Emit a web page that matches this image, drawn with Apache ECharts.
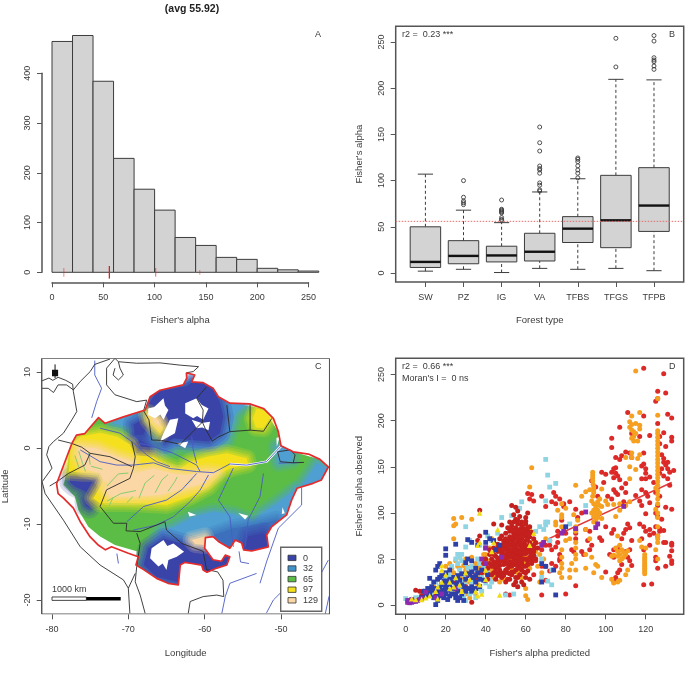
<!DOCTYPE html>
<html><head><meta charset="utf-8">
<script src="https://cdn.jsdelivr.net/npm/echarts@6/dist/echarts.min.js"></script>
<style>html,body{margin:0;padding:0;background:#fff}#c{width:685px;height:679px}</style></head>
<body><div id="c"></div>
<script>
const FONT='"Liberation Sans",Arial,sans-serif';
// ---- Panel A
const histEdges=[0,20,40,60,80,100,120,140,160,180,200,220,240,260];
const histCounts=[464,476,384,229,167,125,70,54,30,26,8,5,2.5];
const rugValues=[11.5,55.92,101,144];
const rugHalf=[8.7,12.7,8.7,4.7];
const rugAlpha=[0.4,1,0.55,0.4];
// ---- Panel B
const forestTypes=['SW','PZ','IG','VA','TFBS','TFGS','TFPB'];
const boxLow=[2,4,0.5,5,4,5,2.5];
const boxQ1=[6,10,12,13,33,27.4,45];
const boxMed=[12,18.5,19,23,48,57,73];
const boxQ3=[50,35,29,43,61,105.7,114];
const boxHigh=[107,68,54.5,87.7,102,209.6,209];
const boxOutliers=[[],[74,76,78,82,100],[57,58,60,65,66,67,68,69,79],[88.7,90,95,97.5,108,111.5,113,115.8,132,141,158],[103,108,111.5,116,120.5,123,124.5],[223,254],[220.4,224,228.7,230.5,233,251,257]];
const grandMean=55.92;
// ---- Panel C (lon, lat)
const outline=[[-62.4,9.9],[-61.3,9.6],[-61.7,8.7],[-60.2,8.6],[-58.9,7.85],[-58.2,6.75],[-56.7,5.9],[-54.1,5.8],[-52.3,5.2],[-51,3.9],[-50.35,2.15],[-50,0.3],[-48.4,-0.5],[-46.4,-0.8],[-44.9,-1.5],[-43.8,-2.5],[-44.7,-4.2],[-45.8,-4.65],[-47.9,-5.3],[-48.6,-6.84],[-49.26,-8.8],[-51.2,-10.35],[-51.87,-11.45],[-51.66,-13],[-53.84,-13.55],[-54.9,-13.4],[-55.15,-12.5],[-56,-12.1],[-56.7,-13.2],[-58.2,-12.3],[-58.9,-11.65],[-59.9,-11.8],[-60,-13.2],[-58.9,-14.7],[-57.8,-14.9],[-57.3,-14.1],[-56.7,-14.3],[-57.1,-15.4],[-58.4,-15.8],[-59.7,-16.35],[-60.2,-16.05],[-60.4,-15.4],[-61.7,-15.2],[-62.6,-15.05],[-63.2,-15.4],[-63.45,-18],[-64.8,-17.8],[-66.3,-17.15],[-68,-16],[-69,-15.4],[-68.7,-14.3],[-70,-13.85],[-72.2,-13],[-73,-13.4],[-73.9,-12.8],[-75,-11.7],[-76.3,-9.7],[-77.2,-7.9],[-78.5,-6.6],[-79.2,-6],[-79.4,-4.7],[-77.4,0.6],[-76.8,1.7],[-75.7,1.9],[-73.9,4],[-73.05,3.25],[-70.65,4.1],[-67.8,5],[-67.15,6.75],[-65.85,7.6],[-62.8,8.3],[-62.35,9.2],[-62.4,9.9]];
const greenBase=[[-73.9,4],[-73.05,3.25],[-70.65,4.1],[-67.8,5],[-67.15,6.75],[-65.85,7.6],[-62.8,8.3],[-61.7,8.7],[-60.2,8.6],[-58.9,7.85],[-56.7,5.9],[-52.3,5.2],[-50.35,2.15],[-48.4,-0.5],[-44.9,-1.5],[-43.8,-2.5],[-44.7,-4.2],[-48,-5.3],[-48.5,-9],[-51,-14],[-60,-17],[-63.4,-18.1],[-66.3,-17.2],[-69,-15.4],[-68.9,-13.6],[-71.75,-12.75],[-73.7,-11.65],[-75.25,-10.35],[-76.55,-8.15],[-77,-6.4],[-78.5,-4.85],[-78.1,-3.35],[-77.65,0.6],[-76.55,1.7],[-74.6,3.25]];
const blue32=[
 [[-67.7,6.1],[-66.3,7.8],[-62.4,8.6],[-61.7,9],[-60.2,8.8],[-58.9,8],[-58,7],[-56.7,6.1],[-54.3,6],[-56,4.6],[-56.5,2.8],[-57.1,1.05],[-58.9,-0.1],[-61,0],[-63.2,0.4],[-65.4,-0.5],[-65.9,1.05],[-66.3,1.9],[-67,4.5]],
 [[-72,3.25],[-70.65,4.05],[-68,4.9],[-67.4,3.25],[-66.95,1.05],[-66.5,-0.7],[-67.6,-1.2],[-69.1,-0.9],[-69.7,0.85],[-69.35,1.95],[-69.55,2.7]],
 [[-65.65,-10.8],[-64.1,-10.45],[-61.5,-9.05],[-58.9,-8.4],[-56.25,-8.7],[-53.6,-9.8],[-52.5,-8.6],[-50.55,-7.3],[-48.2,-5.5],[-48,-9],[-50.5,-14],[-60,-17],[-64,-18.5],[-67,-17],[-68,-15],[-67,-13]],
 [[-45.3,-2],[-43.6,-2.7],[-44.45,-4.45],[-46.65,-5.1],[-47.5,-5.3]],
 [[-50.6,0.2],[-48.5,-0.3],[-48.6,-1.6],[-50.3,-2]]
];
const blueMid=[[[-58.85,-11.45],[-56.25,-10.55],[-53.2,-10.1],[-50.55,-9.45],[-51.4,-13.85],[-56.25,-13.85]]];
const blue0=[
 [[-67.4,5.65],[-66.3,7.4],[-62.35,8.15],[-61.5,8.7],[-60.2,8.5],[-58.9,7.65],[-58,6.1],[-57.55,4.1],[-58,1.95],[-59.5,0.85],[-61.9,1.05],[-64.1,1.25],[-65.2,0.6],[-65.65,2.15],[-66.3,4.1]],
 [[-69.35,3.05],[-68.25,3.7],[-67.6,2.7],[-68.05,1.7],[-69.15,1.7]],
 [[-69.55,0.4],[-68.45,1.05],[-67.15,0.2],[-67.15,-0.9],[-68.45,-1.15],[-69.35,-0.5]],
 [[-77.65,-3.55],[-75.9,-3.55],[-74.15,-4],[-73.3,-4.65],[-73.7,-6.2],[-75,-6.75],[-75.55,-5.75],[-77,-5.1],[-77.65,-4.55]],
 [[-75.7,-6.85],[-75,-7],[-75.1,-7.9],[-75.6,-7.6]],
 [[-54.9,-13.4],[-54.3,-11.65],[-52.3,-11.2],[-51.45,-12.1],[-51.65,-13.4]],
 [[-67.4,-13.2],[-65.4,-11.9],[-62.35,-12.75],[-60.2,-13.4],[-58.9,-14.75],[-56.7,-14.3],[-56.25,-15.6],[-59.7,-16.5],[-63,-17.8],[-66.3,-16.95],[-68,-15.4]]
];
const yellow97=[
 [[-77.8,-3.1],[-77.55,0.2],[-76.3,1.5],[-73.7,2],[-71.5,1.5],[-69.8,0.5],[-69.1,-0.95],[-66.7,-1.15],[-65,-2.25],[-63.45,-2.9],[-61.9,-1.8],[-59.75,-1.15],[-57.1,-0.7],[-54.5,-1.35],[-54.3,-2.1],[-56.7,-2.7],[-58,-3.35],[-59.5,-5.1],[-61.9,-6.4],[-65,-7.5],[-68.5,-7.3],[-72,-7.2],[-73.7,-7.3],[-74.6,-6.6],[-73.7,-5.1],[-73.3,-4.2],[-73.7,-3.3],[-75.9,-3.25]],
 [[-53.2,5.2],[-51.9,4.8],[-51.45,3.9],[-52.3,2.6],[-53.3,2.7],[-53.7,3.9]],
 [[-67.6,4.65],[-66.7,4.35],[-65.4,2.6],[-65.85,1.9],[-66.5,2.6],[-67.4,3.7]]
];
const peach129=[
 [[-76.55,0.2],[-74.15,-0.05],[-71.5,-1.15],[-69.35,-1.8],[-69.55,-3.8],[-72.4,-4.65],[-73.3,-4.2],[-73.7,-3.35],[-75.9,-2.7],[-76.55,-1.15]],
 [[-69.35,-3.35],[-66.7,-2.7],[-64.1,-3.35],[-62.35,-3.55],[-59.75,-3.1],[-58.4,-3.25],[-60.2,-4.65],[-63.2,-5.5],[-65.85,-6.2],[-69.35,-6.4],[-72.4,-6.4],[-73.05,-5.5],[-72,-4.65]],
 [[-61.7,-12.1],[-59.95,-11.65],[-59.95,-12.75],[-61.25,-12.65]],
 [[-66.9,4.1],[-66,3.6],[-65.9,2.9],[-66.6,3.4]]
];
const noData=[
 [[-67.4,5.2],[-66.6,5.4],[-65.4,6.55],[-65.2,5.6],[-64.75,5],[-65.4,3.7],[-65.8,4.4],[-66.5,3.9],[-67.4,4.35]],
 [[-62.55,5.9],[-61.05,6.55],[-60.4,5.7],[-59.5,5.2],[-60.2,3.7],[-61,4.2],[-61.5,3.9],[-62.55,4.55]],
 [[-61.7,3.7],[-60.4,3.3],[-59.3,3.45],[-59.5,2.35],[-60.3,2.7],[-61.05,2.6]],
 [[-64.55,3.7],[-63.45,3.9],[-63.9,1.95],[-65.85,0.85],[-65.4,1.95]],
 [[-63.65,0.6],[-62.15,0.85],[-62.55,-0.05]],
 [[-50.6,1.3],[-50.15,1.5],[-50.55,0.15]],
 [[-55.6,-8.55],[-54.3,-8.9],[-54.7,-9.4]],
 [[-62.2,-8.4],[-61.1,-8.8],[-62,-9]],
 [[-49.8,-7.8],[-49.5,-8.6],[-49.9,-8.7]],
 [[-66.95,-13.2],[-65.4,-12.1],[-64.9,-12.9],[-64.1,-12.55],[-62.7,-13.65],[-63.65,-14.3],[-64.75,-14.75],[-65,-16.05],[-65.5,-15.2],[-66.05,-15.6],[-67.15,-14.5]]
];
const bigRivers=[
 [[-76.3,-0.25],[-73.7,-1.8],[-71.5,-2.25],[-69.35,-2.25],[-66.7,-1.95],[-64.55,-2.7],[-61.05,-3.1],[-58.85,-3.25],[-56.7,-2.1],[-54.5,-2.25],[-51.9,-1.8],[-50,0.25]],
 [[-73.7,2.6],[-71.1,1.95],[-69.55,0.85],[-67.6,-0.9],[-66.3,-1.8],[-64.55,-2.45]],
 [[-68.45,0.6],[-66.7,0.2],[-64.1,-0.7],[-61.05,-2.25],[-60.6,-3.1]],
 [[-61.7,1.5],[-61.5,-0.25],[-61.05,-2]],
 [[-69.35,-10.8],[-66.3,-10.15],[-64.1,-9.05],[-61.9,-7.05],[-60.6,-5.55],[-59.5,-3.55]],
 [[-70.2,-9.7],[-68,-7.7],[-65,-6.85],[-63,-5.5],[-61.05,-3.35]],
 [[-56.25,-2.65],[-58.2,-6.85],[-56.7,-9.05],[-56.25,-13]],
 [[-52.3,-3.35],[-52.75,-6.4],[-54.3,-9.45],[-54.7,-13]],
 [[-47.3,-5.2],[-47.3,-7.5],[-50.35,-10.55],[-51.9,-15],[-52.75,-17.8]],
 [[-43.8,-14.75],[-45.1,-17.15],[-49.5,-18.5],[-51,-20],[-51.9,-21.7]],
 [[-53.2,-16.5],[-56.7,-17.8],[-57.3,-19.55],[-57.75,-21.75]],
 [[-74.4,11.5],[-74.4,9.6],[-73.5,7.85],[-74.15,6.1],[-74.8,3.95]],
 [[-71.5,-13.9],[-71.3,-15.2]],
 [[-55.5,-13.6],[-55.3,-15],[-54.2,-15.2]],
 [[-50.3,-2],[-47.2,-1.9]],
 [[-43.7,-19.5],[-44.2,-21.8]]
];
const lightRivers=[
 [[-76.5,-0.4],[-76,-2],[-75.6,-3.1]],[[-75.2,-0.6],[-75,-2.2]],[[-72.8,-5],[-71.3,-3.4],[-70,-3.3]],
 [[-72.8,-7],[-71,-6],[-69,-5.6]],[[-68.6,-6.6],[-67.8,-4.6],[-66.6,-3.6]],[[-66.5,-5.9],[-65.6,-4.2],[-64.8,-3.5]],
 [[-64.8,-5.7],[-63.9,-4.4],[-63.6,-3.8]],[[-62.6,-5],[-61.6,-4.1]],[[-74.9,-2.4],[-73.4,-2.8]],[[-72.5,-7.6],[-72,-6.5]],
 [[-70.2,-7.2],[-69.4,-6.4]],[[-77,-1],[-76.5,-2.5]]
];
const borders=[
 [[-81.45,7.85],[-80.5,7.85],[-79.8,7.3],[-79.2,8.3],[-78.1,8.3],[-77.2,7.65],[-76.3,8.75],[-75,10.05],[-74.4,11],[-72.4,11.7]],
 [[-81.4,8.8],[-80.4,9.2],[-79.9,8.9],[-79.2,9.3],[-78.2,8.9],[-77.3,8.4],[-77.2,7.4],[-77,6.3],[-76.75,4.8],[-77.4,3.7],[-78.5,1.95],[-79.8,0.85],[-80.4,0.2],[-80.7,-0.9],[-80,-2.65],[-81.3,-4.45],[-80.9,-6],[-78.5,-9.5],[-76.3,-13],[-73.7,-15.4],[-70.65,-17.35],[-70,-18.45],[-69.8,-21.75]],
 [[-71.75,11.8],[-71.3,11.35],[-68.9,11.15],[-65.85,11.2],[-63.2,10.9],[-60.8,10.7],[-61.5,10.05],[-62.4,9.9]],
 [[-71.75,10.5],[-72,9.6],[-71.3,8.95],[-70.65,9.6],[-71.1,10.5],[-71.3,11.35]],
 [[-71.75,11.8],[-72.85,10.5],[-72.85,8.3],[-71.75,7],[-68.9,6.1],[-67.6,6.3],[-68,4.9],[-67.3,3.7],[-66.95,1.05],[-65.65,1],[-63.2,0.5],[-62,1.7],[-60.3,3.4],[-59.9,2.5],[-59,0.9],[-58.3,1.4],[-56.7,2.15],[-54.05,2.35],[-52.3,2.2],[-51.2,3.9]],
 [[-69.55,0.85],[-69.1,-1.15],[-69.35,-2.7],[-69.8,-4],[-72.85,-5.5],[-73.7,-7.7],[-71.95,-9.9],[-70.2,-9.9],[-70.3,-10.9],[-68.45,-11],[-65.2,-9.7],[-65,-10.8],[-63,-12.55],[-60.2,-13.6],[-59.75,-16],[-58.3,-16.3],[-57.6,-17.4],[-57.5,-19.55],[-58.4,-19.35],[-60.2,-19.55],[-61.9,-20.2],[-62.15,-21.75]],
 [[-68.9,-11.2],[-68.45,-12.55],[-68.9,-15.6],[-69.1,-17.6],[-68.45,-19.35],[-67.8,-21.75]],
 [[-69.1,-16.5],[-70,-18.45]],
 [[-57.1,5.65],[-56.7,2.15]],[[-54.05,5.65],[-54.05,2.35]],
 [[-59.75,8.05],[-61.05,6.55],[-60.2,5],[-60.3,3.4]],
 [[-77.85,-3.35],[-75.7,-2.25],[-75,-0.7],[-76.1,0.1],[-77.4,0.6],[-79.2,1.05]],
 [[-77.85,-3.35],[-79.3,-4.4],[-80.3,-5]],
 [[-75,-0.7],[-72.4,-1.15],[-69.55,-2.45]],
 [[-50.45,-0.5],[-48.8,-0.25],[-48.15,-0.9],[-48.4,-1.95],[-50.1,-1.8],[-50.45,-0.5]],
 [[-48.4,-1.95],[-47,-1.9]]
];
const scaleWhite=[[-80,-19.6],[-75.5,-19.6],[-75.5,-20.05],[-80,-20.05]];
const scaleBlack=[[-75.5,-19.6],[-71,-19.6],[-71,-20.05],[-75.5,-20.05]];
const northArrow=[[-80,10.3],[-79.2,10.3],[-79.2,9.45],[-80,9.45]];
const northSpike=[[-79.6,11],[-79.6,9.2]];
const legendTitles=['0','32','65','97','129'];
const legendColors=['#3A44A8','#4193CC','#5BBD45','#F4E01C','#FAD7A4'];
// ---- Panel D (predicted, observed)
const tfpbPts=[[119,257],[129,251],[126,232],[130,230],[126,224],[125,221],[111,209],[119,205],[131,207],[133,203],[126,197],[107,193],[113,186],[117,183],[122,184],[129,187],[127,183],[133,182],[133,178],[103,181],[103,171],[127,175],[130,172],[105,160],[108,162],[107,158],[110,166],[112,165],[113,160],[119,165],[128,163],[129,159],[129,155],[130,152],[131,155],[131,148],[128,148],[134,146],[132,144],[127,143],[129,140],[131,137],[119,153],[118,151],[120,148],[120,143],[118,137],[120,137],[122,139],[124,133],[118,125],[120,122],[121,118],[125,122],[127,118],[132,130],[105,149],[104,148],[105,143],[106,140],[104,138],[107,136],[110,132],[103,144],[98,144],[100,142],[93,135],[95,128],[99,133],[104,125],[105,122],[106,120],[108,127],[110,122],[96,118],[101,118],[103,115],[109,112],[115,119],[117,113],[118,108],[122,111],[126,108],[130,106],[133,104],[125,100],[126,96],[128,93],[120,99],[117,88],[119,85],[125,85],[127,83],[122,82],[120,80],[129,81],[124,78],[118,72],[122,76],[126,75],[127,80],[111,88],[112,84],[110,82],[109,78],[113,70],[108,72],[103,78],[104,82],[100,85],[104,60],[106,62],[102,55],[104,52],[110,58],[112,60],[111,52],[112,48],[113,43],[108,44],[107,38],[106,35],[105,30],[100,36],[104,26],[119,22],[123,23],[119,60],[122,65],[130,68],[133,67],[133,65],[133,59],[132,53],[133,48],[133,45],[130,42],[126,40],[125,48],[125,52],[129,68],[98,70],[97,73],[93,65],[92,60],[90,82],[88,100],[85,104],[82,112],[79,107],[74,122],[75,118],[77,115],[75,110],[73,112],[70,107],[68,118],[64,113],[63,120],[61,121],[62,115],[79,110],[86,95],[78,92],[76,80],[80,78],[76,75],[76,68],[75,63],[73,60],[77,55],[77,50],[77,48],[70,65],[72,70],[72,65],[68,60],[64,62],[65,48],[68,42],[70,42],[72,37],[73,45],[75,42],[64,33],[68,27],[70,27],[80,12],[85,21],[68,11],[52,11],[50,12],[84,58],[83,60],[88,58],[89,55],[92,80],[91,70],[85,78],[85,72],[85,82]];
const tfgsPts=[[115,254],[126,224],[126,206],[117,209],[113,205],[112,199],[113,196],[115,197],[117,195],[112,193],[117,191],[113,190],[126,189],[114,188],[115,186],[126,186],[114,183],[113,181],[126,182],[114,178],[116,178],[126,178],[126,174],[126,170],[126,166],[113,165],[117,163],[126,162],[110,160],[113,160],[116,159],[126,158],[126,154],[112,150],[126,150],[115,147],[126,146],[126,142],[126,138],[126,134],[126,130],[125,127],[126,124],[126,120],[126,115],[126,110],[125,104],[126,100],[126,95],[126,85],[126,75],[126,72],[126,68],
[93.5,144],[93.5,141],[93.5,138],[93.5,135],[93.7,131],[94,128],[94,125],[94,122],[93.5,118],[93,113],[94,110],[95,108],[96,112],[95,105],[94,103],[93,100],[95,100],[96,98],[94,96],[96,95],[95,92],[94,90],[97,108],[96,103],[97,115],[98,107],[97,100],[98,94],[96,88],[92,125],
[119.5,55],[119.5,52],[119.5,50],[119.5,48],[119.5,46],[119.5,44],[119.5,42],[119.5,40],[119.5,38],[119.5,36],[119.5,34],[118,63],
[105,62],[106,58],[107,55],[104,54],[103,53],[108,60],[109,57],[110,55],[106,53],[111,59],[108,50],[107,48],[109,52],[107,65],[106,75],[107,27],[104,24],[103,28],
[63,149],[62,128],[85,130],[98,126],[100,113],[101,109],[104,109],[107,110],[110,108],[107,103],[105,96],[112,137],[112,112],[90,123],[88,118],[78,110],[80,105],[76,103],[78,98],[78,95],[75,90],[75,87],[78,85],[84,98],[86,92],[85,85],[85,80],[82,72],[80,70],[78,60],[78,52],[78,45],[78,40],[77,35],[78,30],[85,68],[85,62],[85,55],[85,50],[83,45],[82,38],[85,38],[82,30],[90,82],[92,72],[90,55],[90,40],[93,52],[95,44],[94,35],[96,42],[98,30],[106,25],[110,33],[111,38],[117,70],[120,62],[125,60],[126,50],[28,95],[24,94],[25,88],[24,86],[33,93],[24,72],[27,40],
[20,42],[22,45],[25,48],[27,52],[30,50],[33,52],[35,45],[37,42],[40,40],[42,35],[38,30],[36,22],[34,28],[32,35],[30,38],[28,30],[26,25],[24,35],[22,30],[20,25],[18,18],[16,28],[14,20],[12,15],[25,15],[28,18],[30,12],[32,8],[34,18],[36,35],[38,48],[40,55],[42,62],[43,72],[44,30],[47,25],[49,28],[52,48],[55,70],[58,52],[60,62],[60,45],[60,52],[60,56],[58,68],[61,75],[62,82],[58,30],[60,18],[60,10],[61,6],[67,25],[68,35],[66,42],[65,58],[70,72],
[23,40],[26,42],[29,43],[31,41],[34,40],[37,38],[39,35],[29,25],[31,25],[33,15],[35,12],[37,30],[41,30],[43,38],[39,55],[41,48],[45,45],[47,60],[50,48],[53,40],[56,35],[59,48],[62,40],[57,75],[64,70],[67,55],[69,50]];
const tfbsPts=[[37,103],[37,75],[36,70],[33,3],[5,16],[7,15],[9,15],[12,13],[16,15],[8,10],[15,10],[20,20],[25,24],[30,20],[33,30],[35,28],[38,35],[40,27],[41,40],[42,45],[43,50],[44,55],[42,60],[44,62],[45,53],[46,48],[47,43],[45,40],[44,35],[46,32],[48,30],[47,38],[48,50],[49,55],[48,60],[46,66],[47,72],[44,88],[48,87],[50,38],[51,35],[52,28],[50,25],[54,22],[56,20],[58,25],[55,30],[53,36],[52,42],[54,44],[56,40],[58,38],[60,35],[62,28],[60,42],[58,46],[56,48],[54,50],[52,47],[50,45],[51,52],[53,55],[55,54],[57,52],[59,50],[61,48],[63,52],[62,57],[60,56],[58,58],[56,60],[54,58],[52,60],[50,62],[49,66],[51,68],[53,65],[55,66],[57,65],[59,63],[61,62],[63,60],[64,65],[62,68],[60,70],[58,72],[56,70],[54,72],[52,74],[50,78],[52,80],[54,78],[56,76],[58,78],[60,75],[62,74],[64,72],[61,80],[59,83],[57,82],[55,84],[53,86],[51,84],[56,88],[58,90],[60,88],[62,85],[60,95],[61,100],[57,96],[55,93],[54,98],[56,102],[53,108],[55,106],[52,90],[48,75],[46,58],[49,44],[47,35],[43,42],[41,33],[39,45],[40,50],[42,55],[44,47],[46,42],[48,56],[50,50],[52,52],[54,62],[56,55],[58,55],[60,60],[62,64],[64,58],[55,44],[53,33],[57,33],[61,37],[63,45],[65,50],[51,58],[49,70],[53,70],[57,68],[59,67],[61,72],[55,62],[57,60],[59,76],[63,79],[65,68],[66,62],
[45,44],[47,47],[49,48],[51,45],[53,46],[55,47],[57,44],[59,42],[61,44],[63,48],[45,36],[47,33],[49,35],[51,40],[53,42],[55,38],[57,40],[59,36],[44,42],[46,51],[48,53],[50,55],[52,56],[54,54],[56,52],[58,50],[60,50],[62,52],[64,54],[46,62],[48,64],[50,66],[52,65],[54,67],[56,66],[58,62],[60,65],[62,60],[64,61],[49,60],[51,62],[53,60],[55,59],[57,57],[59,56],[61,58],[63,56],[50,72],[52,70],[54,75],[56,73],[58,75],[60,78],[62,77],[53,82],[55,80],[57,79],[59,80],[61,84],[54,90],[56,92],[58,86],[60,91],[52,34],[54,36],[56,30],[60,30],[49,32],[45,28],[43,33],[41,28],[51,28],[55,25],[59,22]];
const vaPts=[[70,158],[71,141],[75,132],[72,128],[70,113],[58,112],[57,105],[53,97],[48,95],[30,85],[28,55],[27,52],[25,50],[26,45],[30,63],[32,70],[37,65],[36,50],[33,42],[30,45],[27,38],[25,30],[22,32],[20,28],[18,30],[15,25],[12,18],[10,15],[8,10],[5,8],[0,7],[20,12],[23,15],[27,20],[30,22],[33,25],[36,28],[38,32],[41,38],[42,30],[43,25],[42,20],[43,70],[41,75],[70,90],[70,87],[69,82],[67,85],[65,80],[72,70],[71,90],[82,88],[90,108],[73,22],[71,26],[68,30],[50,11],[54,12],[56,20],[73,38],[68,50],[65,52],[56,105],[38,15],[35,8],[30,5],[29,10],[46,78],[49,68],
[23,42],[26,55],[28,48],[31,40],[34,38],[37,45],[39,42],[40,24],[28,25],[25,20],[22,22],[19,18],[16,14],[14,12],[12,14],[9,12],[7,8],[32,12],[34,14],[36,18],[29,33],[24,26],[21,35],[17,20]];
const igPts=[[40,79],[20,61],[20,54],[25,66],[31,71],[33,68],[36,65],[40,68],[40,62],[42,72],[17,45],[16,42],[15,38],[20,35],[22,38],[18,32],[12,29],[14,25],[16,28],[20,26],[24,30],[26,25],[28,22],[30,28],[32,32],[34,30],[31,50],[30,46],[33,48],[35,40],[36,35],[18,22],[20,20],[22,22],[24,18],[26,15],[28,12],[25,8],[26,5],[15,0.5],[16,5],[14,8],[16,12],[18,14],[20,12],[22,10],[12,12],[10,10],[8,8],[9,15],[11,18],[13,20],[30,15],[33,20],[35,25],[37,20],[39,27],[41,33],[38,38],[45,60],[47,65],[68,45],[70,42],[68,25],[75,11],[74,38],[80,85],[44,70],
[17,30],[19,26],[21,24],[23,25],[25,22],[27,27],[29,20],[31,18],[33,15],[35,18],[13,16],[15,18],[17,17],[19,16],[21,16],[23,12],[25,12],[27,8],[29,5],[17,10],[19,8],[21,6],[31,34],[33,36],[35,32],[37,28],[28,34],[26,32],[22,28]];
const swPts=[[1,3],[2,2.5],[3,3],[4,4],[5,4],[2,5],[3,6],[6,5],[7,6],[8,7],[1,5],[15,8],[18,12],[10,14],[25,18],[38,50],[40,45],[48,52],[40,62],[85,83],[79,80],[78,78],[90,101],[109,107],[96,88],[95,84],[69,68],[68,65]];
const pzPts=[[37,100],[47,11],[46,82],[44,68],[37,68],[36,65],[43,58],[20,33],[18,38],[18,43],[18,25],[16,20],[22,25],[25,30],[22,18],[15,15],[12,10],[8,6],[5,6],[3,7],[10,8],[16,7],[27,22],[30,35],[32,28],[35,15],[37,22],[40,28],[28,15],[38,12],[36,10],[64,78],[62,65],[40,38],[24,20]];
const fitLine=[[0,1],[133,133]];

const INK='#3a3a3a', AXIS='#555';
const txt={color:INK,fontFamily:FONT,fontSize:9.5};
const tickTxt={color:INK,fontFamily:FONT,fontSize:9};
function axisBase(name,gap,extra,margin){return Object.assign({type:'value',name,nameLocation:'middle',nameGap:gap,nameTextStyle:txt,
  splitLine:{show:false},axisLine:{show:false,onZero:false,lineStyle:{color:AXIS,width:1.5}},axisTick:{show:true,length:5,lineStyle:{color:AXIS,width:1}},
  axisLabel:Object.assign({margin:margin||11,hideOverlap:false},tickTxt)},extra||{});}
function withTicks(a,vals,fmt){a.axisTick.customValues=vals;a.axisLabel.customValues=vals;if(fmt)a.axisLabel.formatter=fmt;return a;}
function rot(a){a.axisLabel.rotate=90;a.nameRotate=90;return a;}

const grids=[
 {left:52,top:73.3,width:256.5,height:199,outerBoundsMode:'none'},
 {left:395.7,top:26.3,width:288,height:255.7,show:true,borderColor:AXIS,borderWidth:1.5,outerBoundsMode:'none'},
 {left:41.7,top:358.3,width:288,height:256,outerBoundsMode:'none'},
 {left:395.7,top:358.3,width:288,height:256,show:true,borderColor:AXIS,borderWidth:1.5,outerBoundsMode:'none'}
];
const extC={xmin:-81.35,xmax:-43.62,ymin:-21.88,ymax:11.8};

const xA=axisBase("Fisher's alpha",33,{gridIndex:0,min:0,max:250,interval:50,offset:10});xA.axisLine.show=true;
const yA=rot(axisBase('',0,{gridIndex:0,min:0,max:400,interval:100,offset:10},10));yA.axisLine.show=true;
const xB=withTicks(axisBase('Forest type',33,{gridIndex:1,min:0.22,max:7.78}),[1,2,3,4,5,6,7],v=>forestTypes[v-1]);
const yB=rot(withTicks(axisBase("Fisher's alpha",31,{gridIndex:1,min:-9.74,max:267},10),[0,50,100,150,200,250]));
const xC=withTicks(axisBase('Longitude',34,{gridIndex:2,min:extC.xmin,max:extC.xmax}),[-80,-70,-60,-50]);
const yC=rot(withTicks(axisBase('Latitude',31,{gridIndex:2,min:extC.ymin,max:extC.ymax},10),[-20,-10,0,10]));
const xD=withTicks(axisBase("Fisher's alpha predicted",34,{gridIndex:3,min:-5,max:139}),[0,20,40,60,80,100,120]);
const yD=rot(withTicks(axisBase("Fisher's alpha observed",31,{gridIndex:3,min:-10,max:267.7},10),[0,50,100,150,200,250]));

const series=[];
series.push({type:'custom',xAxisIndex:0,yAxisIndex:0,clip:false,silent:true,data:histCounts.map((c,i)=>[histEdges[i],histEdges[i+1],c]),
 encode:{x:[0,1],y:2},
 renderItem:(p,api)=>{const a=api.coord([api.value(0),0]),b=api.coord([api.value(1),api.value(2)]);
  return {type:'rect',shape:{x:a[0],y:b[1],width:b[0]-a[0],height:a[1]-b[1]},style:{fill:'#D3D3D3',stroke:'#3c3c3c',lineWidth:1}};}});
series.push({type:'custom',xAxisIndex:0,yAxisIndex:0,clip:false,silent:true,z:5,data:rugValues.map((v,i)=>[v,rugHalf[i],rugAlpha[i]]),
 encode:{x:0,y:1},
 renderItem:(p,api)=>{const a=api.coord([api.value(0),api.value(1)]),b=api.coord([api.value(0),-api.value(1)]);
  return {type:'line',shape:{x1:a[0],y1:a[1],x2:b[0],y2:b[1]},style:{stroke:'#E02020',lineWidth:1.3,opacity:api.value(2)}};}});
series.push({type:'custom',xAxisIndex:1,yAxisIndex:1,silent:true,data:forestTypes.map((t,i)=>[i+1,boxLow[i],boxQ1[i],boxMed[i],boxQ3[i],boxHigh[i]]),
 encode:{x:0,y:[1,2,3,4,5]},
 renderItem:(p,api)=>{const x=api.value(0),c=(u,v)=>api.coord([x+u,v]);
  const L=api.value(1),Q1=api.value(2),M=api.value(3),Q3=api.value(4),H=api.value(5),kids=[];
  const ln=(a,b,st)=>kids.push({type:'line',shape:{x1:a[0],y1:a[1],x2:b[0],y2:b[1]},style:st});
  const dash={stroke:'#3c3c3c',lineWidth:1,lineDash:[3,2.5]},solid={stroke:'#3c3c3c',lineWidth:1};
  ln(c(0,L),c(0,Q1),dash);ln(c(0,Q3),c(0,H),dash);ln(c(-.2,L),c(.2,L),solid);ln(c(-.2,H),c(.2,H),solid);
  const a=c(-.4,Q3),b=c(.4,Q1);
  kids.push({type:'rect',shape:{x:a[0],y:a[1],width:b[0]-a[0],height:b[1]-a[1]},style:{fill:'#D3D3D3',stroke:'#3c3c3c',lineWidth:1}});
  ln(c(-.4,M),c(.4,M),{stroke:'#111',lineWidth:2.4});
  return {type:'group',children:kids};}});
series.push({type:'scatter',xAxisIndex:1,yAxisIndex:1,silent:true,symbol:'circle',symbolSize:4,itemStyle:{color:'rgba(0,0,0,0)',borderColor:'#3c3c3c',borderWidth:0.9,opacity:1},
 data:boxOutliers.flatMap((o,i)=>o.map(v=>[i+1,v]))});
series.push({type:'line',xAxisIndex:1,yAxisIndex:1,silent:true,symbol:'none',z:6,data:[[0.22,grandMean],[7.78,grandMean]],lineStyle:{color:'#E86A6A',width:1,type:[1.5,1.5]}});
function polyLayer(polys,fill,soft,z){series.push({type:'custom',xAxisIndex:2,yAxisIndex:2,clip:true,silent:true,z,data:polys.map((_,i)=>[i]),encode:{x:[],y:[]},
 renderItem:(p,api)=>{const pts=polys[p.dataIndex].map(q=>api.coord(q));
  if(!soft)return {type:'polygon',shape:{points:pts},style:{fill}};
  const ch=[[3,.18],[2.2,.22],[1.4,.3],[.7,.4]].map(([k,o])=>({type:'polygon',shape:{points:pts},style:{fill:null,stroke:fill,lineWidth:soft*k,opacity:o,lineJoin:'round'}}));
  ch.push({type:'polygon',shape:{points:pts},style:{fill}});
  return {type:'group',children:ch};}});}
function lineLayer(lines,stroke,width,z){series.push({type:'custom',xAxisIndex:2,yAxisIndex:2,clip:true,silent:true,z,data:lines.map((_,i)=>[i]),encode:{x:[],y:[]},
 renderItem:(p,api)=>({type:'polyline',shape:{points:lines[p.dataIndex].map(q=>api.coord(q))},style:{stroke,lineWidth:width,fill:null,lineJoin:'round'}})});}
polyLayer([greenBase],'#5BBD45',0,2);
polyLayer(blue32,'#4F9FD2',6,3);
polyLayer(blueMid,'#3D70BC',6,4);
polyLayer(blue0,'#3A44A8',7,5);
polyLayer(yellow97,'#F4E01C',6,6);
polyLayer(peach129,'#FAD7A4',6,7);
polyLayer(noData,'#ffffff',0,8);
const mask=[[extC.xmin,extC.ymax],[extC.xmin,extC.ymin],[extC.xmax,extC.ymin],[extC.xmax,extC.ymax],[extC.xmin,extC.ymax]].concat(outline,[[extC.xmin,extC.ymax]]);
polyLayer([mask],'#ffffff',0,9);
lineLayer(lightRivers,'#7CCB6C',0.9,10);
lineLayer([[[-56.7,-2.1],[-54.5,-2.25],[-51.9,-1.8],[-50,0.25]]],'#ffffff',2.4,10);
lineLayer(bigRivers,'#4A5BC4',0.9,11);
lineLayer(borders,'#2c2c2c',0.9,12);
lineLayer([outline],'#E52B2B',1.7,13);
polyLayer([scaleWhite],'#ffffff',0,14);lineLayer([scaleWhite.concat([scaleWhite[0]])],'#333',0.9,14);
polyLayer([scaleBlack],'#000000',0,14);
polyLayer([northArrow],'#111111',0,14);lineLayer([northSpike],'#111',1,14);
lineLayer([[[extC.xmin,extC.ymin],[extC.xmax,extC.ymin],[extC.xmax,extC.ymax],[extC.xmin,extC.ymax],[extC.xmin,extC.ymin]]],AXIS,1.5,15);
series.push({type:'line',xAxisIndex:3,yAxisIndex:3,silent:true,symbol:'none',z:2,data:fitLine,lineStyle:{color:'#E03A3A',width:1.5}});
function pts(data,symbol,size,color,z){series.push({type:'scatter',xAxisIndex:3,yAxisIndex:3,silent:true,symbol,symbolSize:size,data,itemStyle:{color,opacity:1},z});}
pts(tfpbPts,'circle',5,'#DC2A28',3);
pts(tfgsPts,'circle',5,'#F5A020',4);
pts(vaPts,'rect',4.8,'#8FD4E3',5);
pts(tfbsPts,'circle',5,'#C4201E',6);
pts(igPts,'rect',4.8,'#2F3FA8',7);
pts(swPts,'rect',4.8,'#8A2BB0',8);
pts(pzPts,'triangle',5.5,'#EFDC14',9);

function label(x,y,t,extra){return {type:'text',x,y,z:50,style:Object.assign({text:t,fill:INK,font:'9px '+FONT,textAlign:'left',textVerticalAlign:'middle'},extra||{})};}
const legendEls=[{type:'rect',z:49,shape:{x:280.7,y:547.3,width:41,height:64},style:{fill:'#fff',stroke:'#666',lineWidth:1.4}}];
legendTitles.forEach((t,i)=>{const yy=555.2+i*10.6;
 legendEls.push({type:'rect',z:50,shape:{x:288,y:yy,width:8,height:5.4},style:{fill:legendColors[i],stroke:'#333',lineWidth:0.8}});
 legendEls.push(label(303,yy+3,t));});
const option={animation:false,backgroundColor:'#fff',textStyle:{fontFamily:FONT},
 title:{text:'(avg 55.92)',left:187,top:-1,textAlign:'center',textStyle:{fontFamily:FONT,fontSize:10.5,fontWeight:'bold',color:'#222'}},
 grid:grids,xAxis:[xA,xB,xC,xD],yAxis:[yA,yB,yC,yD],series,
 graphic:{elements:[
  label(315,35,'A'),label(669,34.5,'B'),label(315,367,'C'),label(669,367,'D'),
  label(402,34.5,'r2 =  0.23 ***'),label(402,367,'r2 =  0.66 ***'),label(402,379,"Moran's I =  0 ns"),
  label(52,590,'1000 km')
 ].concat(legendEls)}};
const chart=echarts.init(document.getElementById('c'),null,{renderer:'canvas'});
chart.setOption(option);
</script></body></html>
